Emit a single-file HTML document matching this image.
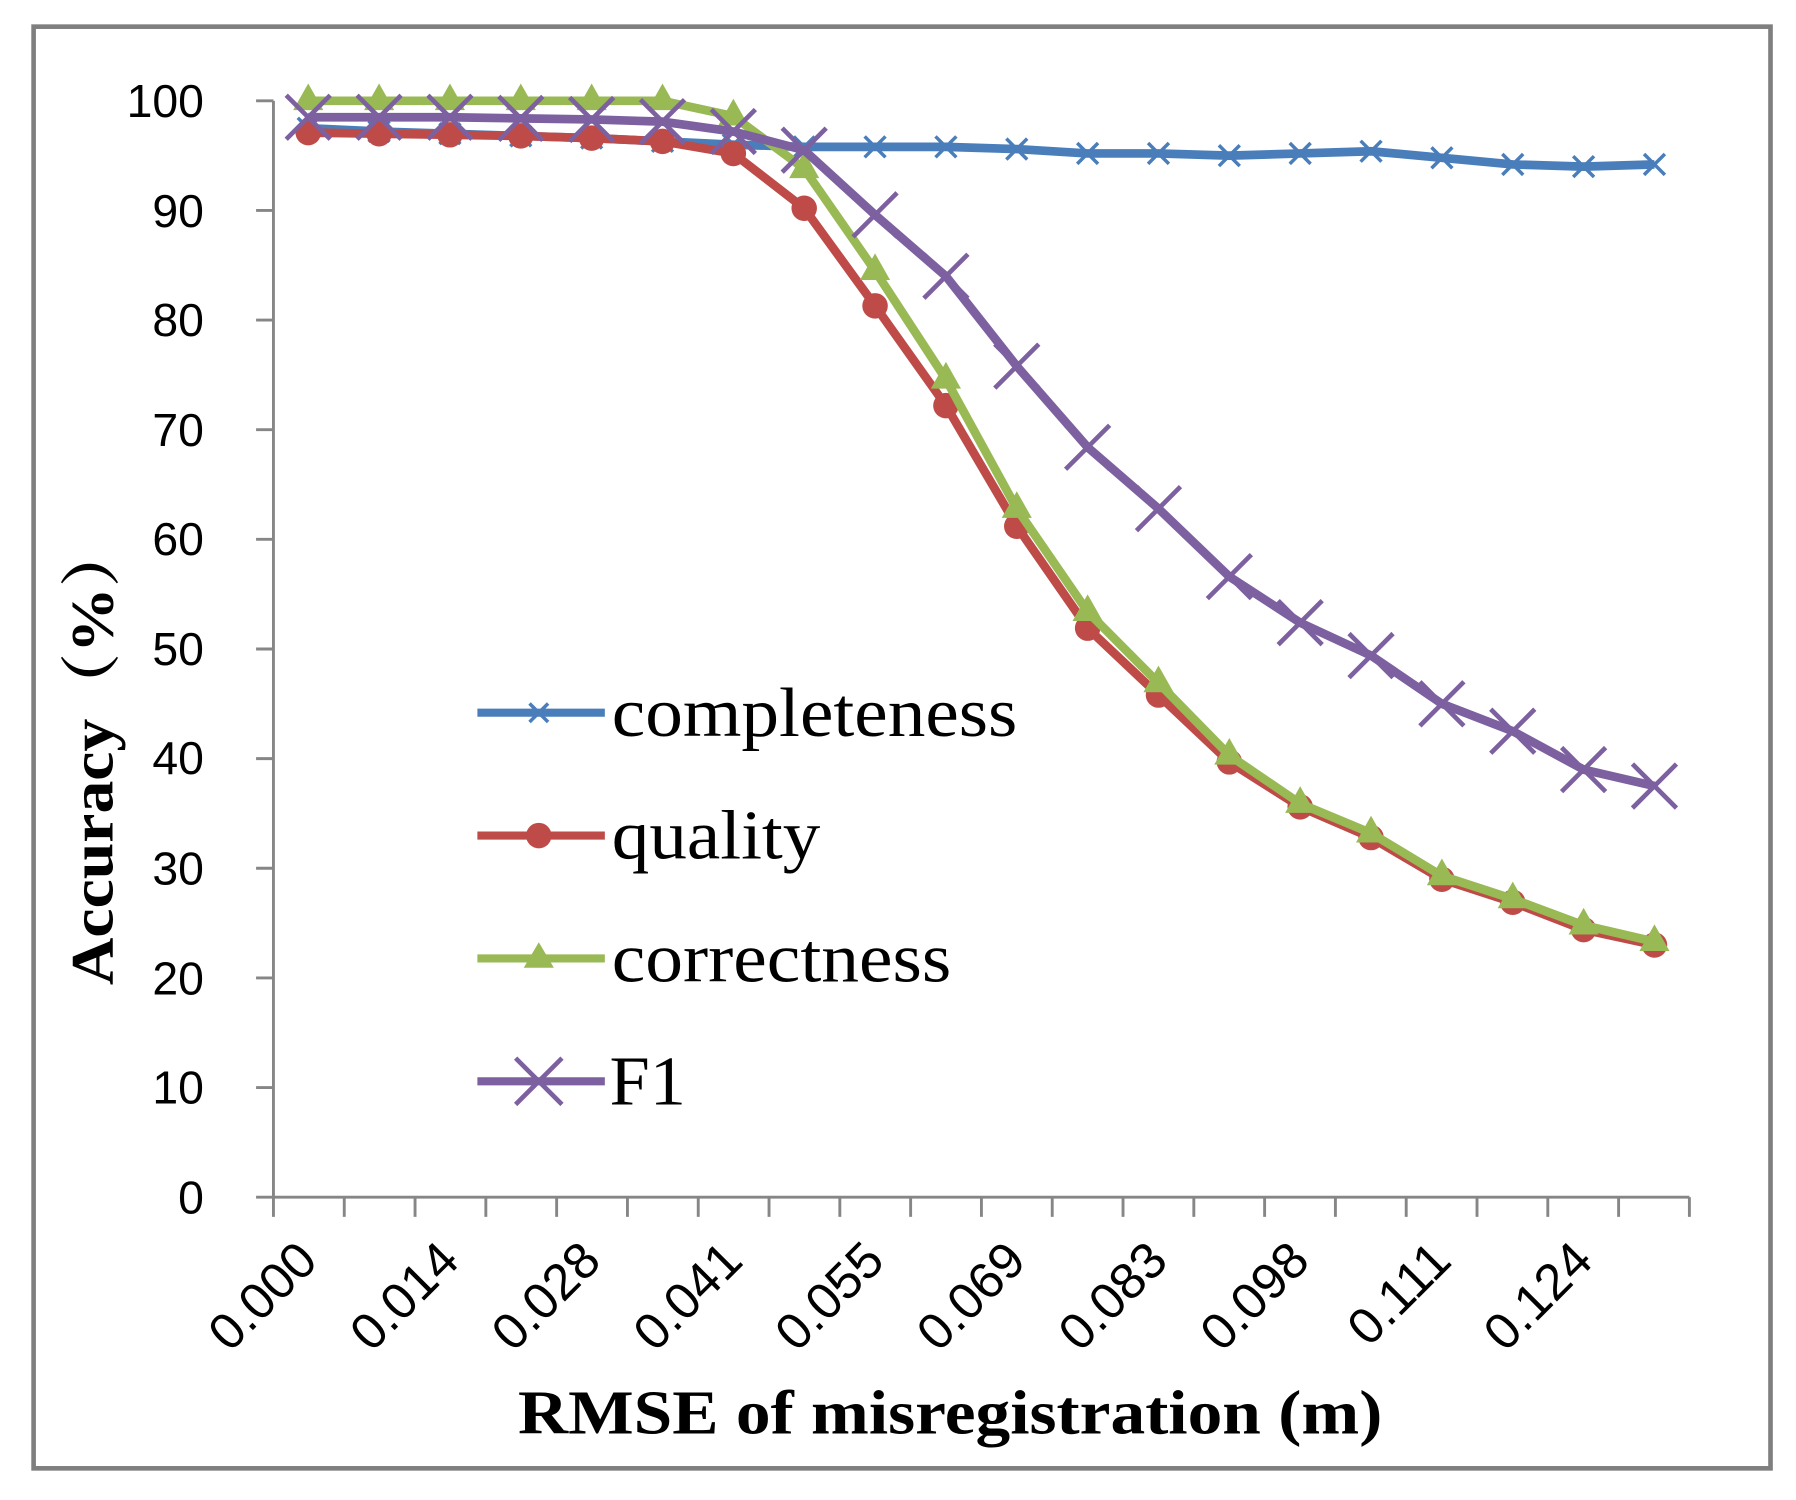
<!DOCTYPE html>
<html><head><meta charset="utf-8"><style>html,body{margin:0;padding:0;background:#fff;overflow:hidden}</style></head>
<body>
<svg width="1796" height="1495" viewBox="0 0 1550 1290" preserveAspectRatio="none" xmlns="http://www.w3.org/2000/svg">
<rect x="0" y="0" width="1550" height="1290" fill="#fff"/>
<rect x="29" y="23" width="1499" height="1244" fill="none" stroke="#7f7f7f" stroke-width="4"/>
<g stroke="#868686" stroke-width="2.5" fill="none">
<line x1="236" y1="87" x2="236" y2="1033"/>
<line x1="236" y1="1033" x2="1458" y2="1033"/>
<line x1="221" y1="87" x2="236" y2="87"/><line x1="221" y1="181.6" x2="236" y2="181.6"/><line x1="221" y1="276.2" x2="236" y2="276.2"/><line x1="221" y1="370.8" x2="236" y2="370.8"/><line x1="221" y1="465.4" x2="236" y2="465.4"/><line x1="221" y1="560" x2="236" y2="560"/><line x1="221" y1="654.6" x2="236" y2="654.6"/><line x1="221" y1="749.2" x2="236" y2="749.2"/><line x1="221" y1="843.8" x2="236" y2="843.8"/><line x1="221" y1="938.4" x2="236" y2="938.4"/><line x1="221" y1="1033" x2="236" y2="1033"/>
</g>
<g id="xt" stroke="#868686" stroke-width="2.5"></g>
<g font-family="Liberation Sans, sans-serif" font-size="40" fill="#000" text-anchor="end">
<text x="176" y="101">100</text><text x="176" y="196">90</text><text x="176" y="290">80</text><text x="176" y="385">70</text><text x="176" y="479">60</text><text x="176" y="574">50</text><text x="176" y="668">40</text><text x="176" y="763">30</text><text x="176" y="858">20</text><text x="176" y="952">10</text><text x="176" y="1047">0</text>
</g>
<g id="xl" font-family="Liberation Sans, sans-serif" font-size="44" fill="#000" text-anchor="end"></g>
<text transform="translate(97,650) rotate(-90)" text-anchor="middle" font-family="Liberation Serif, 'Noto Serif CJK SC', serif" font-weight="bold" font-size="52" textLength="400" lengthAdjust="spacingAndGlyphs">Accuracy（%）</text>
<text x="820" y="1237" text-anchor="middle" font-family="Liberation Serif, serif" font-weight="bold" font-size="54" textLength="746" lengthAdjust="spacingAndGlyphs">RMSE of misregistration (m)</text>
<g id="series"></g>
<g font-family="Liberation Serif, serif" font-size="60" fill="#000">
<line x1="412" y1="615" x2="522" y2="615" stroke="#4a7ebb" stroke-width="7"/><path d="M457,607 L473,623 M473,607 L457,623" stroke="#4a7ebb" stroke-width="3"/>
<text x="528" y="635" textLength="350" lengthAdjust="spacingAndGlyphs">completeness</text>
<line x1="412" y1="721" x2="522" y2="721" stroke="#be4b48" stroke-width="7"/><circle cx="465" cy="721" r="11" fill="#be4b48"/>
<text x="528" y="741" textLength="180" lengthAdjust="spacingAndGlyphs">quality</text>
<line x1="412" y1="827" x2="522" y2="827" stroke="#98b954" stroke-width="7"/><polygon points="465,813 478,835 452,835" fill="#98b954"/>
<text x="528" y="847" textLength="293" lengthAdjust="spacingAndGlyphs">correctness</text>
<line x1="412" y1="933" x2="522" y2="933" stroke="#7d60a0" stroke-width="7"/><path d="M445,913 L485,953 M485,913 L445,953" stroke="#7d60a0" stroke-width="4"/>
<text x="526" y="953" textLength="66" lengthAdjust="spacingAndGlyphs">F1</text>
</g>
</svg>
<script>
const ns="http://www.w3.org/2000/svg";
const X=i=>266+i*61.15, Y=v=>1033-v*9.46;
const xt=document.getElementById('xt');
for(let i=0;i<=20;i++){const x=236+i*61.1;const l=document.createElementNS(ns,'line');l.setAttribute('x1',x);l.setAttribute('x2',x);l.setAttribute('y1',1033);l.setAttribute('y2',1050);xt.appendChild(l);}
const labs=["0.000","0.014","0.028","0.041","0.055","0.069","0.083","0.098","0.111","0.124"];
const xl=document.getElementById('xl');
labs.forEach((s,k)=>{const x=X(2*k)+10,y=1090;const t=document.createElementNS(ns,'text');t.setAttribute('transform',`translate(${x},${y}) rotate(-45)`);t.textContent=s;xl.appendChild(t);});
const D={
c:[97.5,97.2,97,96.8,96.6,96.3,96,95.8,95.8,95.8,95.6,95.2,95.2,95,95.2,95.4,94.8,94.2,94,94.2],
q:[97.1,97,96.9,96.8,96.6,96.3,95.2,90.2,81.3,72.2,61.2,51.9,45.8,39.7,35.6,32.8,29,26.9,24.4,23],
r:[100,100,100,100,100,100,98.6,93.8,84.5,74.6,62.8,53.4,46.9,40.3,35.9,33.2,29.3,27.2,24.8,23.3],
f:[98.5,98.5,98.5,98.4,98.3,98.1,97.2,95.5,89.6,84,75.8,68.4,62.8,56.6,52.4,49.4,45,42.5,39,37.5]};
const g=document.getElementById('series');let h='';
function line(a,c){return `<polyline fill="none" stroke="${c}" stroke-width="7.5" stroke-linejoin="round" points="${a.map((v,i)=>X(i)+','+Y(v)).join(' ')}"/>`;}
h+=line(D.c,'#4a7ebb');
D.c.forEach((v,i)=>{const x=X(i),y=Y(v);h+=`<path d="M${x-9},${y-9}L${x+9},${y+9}M${x+9},${y-9}L${x-9},${y+9}" stroke="#4a7ebb" stroke-width="3"/>`;});
h+=line(D.q,'#be4b48');
D.q.forEach((v,i)=>{h+=`<circle cx="${X(i)}" cy="${Y(v)}" r="11" fill="#be4b48"/>`;});
h+=line(D.r,'#98b954');
D.r.forEach((v,i)=>{const x=X(i),y=Y(v);h+=`<polygon points="${x},${y-15} ${x+13},${y+8} ${x-13},${y+8}" fill="#98b954"/>`;});
h+=line(D.f,'#7d60a0');
D.f.forEach((v,i)=>{const x=X(i),y=Y(v);h+=`<path d="M${x-19},${y-19}L${x+19},${y+19}M${x+19},${y-19}L${x-19},${y+19}" stroke="#7d60a0" stroke-width="4"/>`;});
g.innerHTML=h;
</script>
</body></html>
